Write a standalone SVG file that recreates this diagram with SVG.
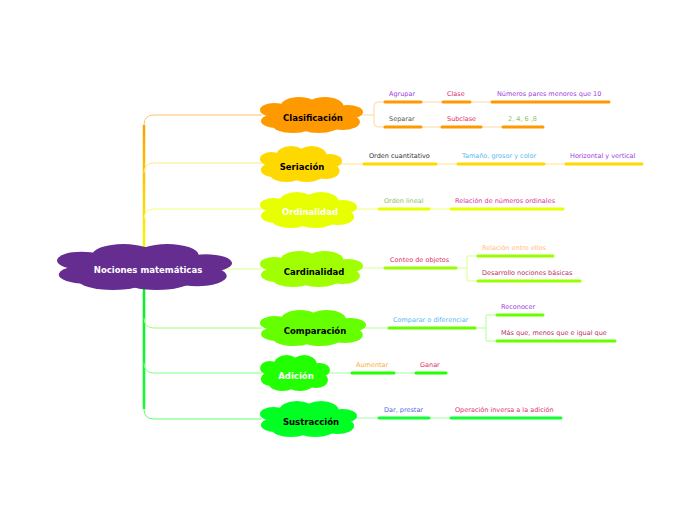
<svg xmlns="http://www.w3.org/2000/svg" xmlns:xlink="http://www.w3.org/1999/xlink" width="697" height="520" viewBox="0 0 697 520">
<style>
.t{font-family:"DejaVu Sans",Verdana,sans-serif;font-size:6.5px}
.n{font-family:"DejaVu Sans",Verdana,sans-serif;font-size:8.5px;font-weight:bold;text-anchor:middle}
.u{stroke-width:3;stroke-linecap:round;fill:none}
.c{fill:none;stroke-width:1}
</style>
<defs>
<symbol id="cloud" viewBox="0 0 100 36" preserveAspectRatio="none">
<ellipse cx="14" cy="13" rx="14" ry="7"/><ellipse cx="38" cy="9" rx="18" ry="9"/><ellipse cx="63" cy="9" rx="18" ry="9"/><ellipse cx="85" cy="15" rx="15" ry="7"/><ellipse cx="80" cy="25" rx="17" ry="8"/><ellipse cx="57" cy="28" rx="20" ry="8"/><ellipse cx="32" cy="28" rx="20" ry="8"/><ellipse cx="16" cy="24" rx="15" ry="7"/><ellipse cx="50" cy="18" rx="40" ry="12"/>
</symbol>
<linearGradient id="tr" x1="0" y1="115" x2="0" y2="420" gradientUnits="userSpaceOnUse"><stop offset="0" stop-color="#ff9900"/><stop offset="0.4" stop-color="#ffee00"/><stop offset="0.5" stop-color="#ccff00"/><stop offset="0.52" stop-color="#00ee22"/><stop offset="1" stop-color="#11ff33"/></linearGradient>
</defs>
<g id="connectors">
<path d="M144,268 V125 M144,268 V409" stroke="url(#tr)" stroke-width="2.5" fill="none"/>
<path class="c" d="M144,125 Q144,115 154,115 H262" stroke="#ffc070" stroke-width="1.5"/>
<path class="c" d="M144,173 Q144,163 154,163 H262" stroke="#ffe880"/>
<path class="c" d="M144,219 Q144,209 154,209 H262" stroke="#f0ff80"/>
<path class="c" d="M200,269 H262" stroke="#d8ff90"/>
<path class="c" d="M144,318 Q144,328 154,328 H262" stroke="#a0ff70"/>
<path class="c" d="M144,363 Q144,373 154,373 H262" stroke="#80ff80"/>
<path class="c" d="M144,409 Q144,419 154,419 H262" stroke="#60ff70" stroke-width="1.5"/>
<path class="c" d="M360,115 H374 M384,102 H378 Q374,102 374,106 V123 Q374,127 378,127 H384 M421,102 H442 M471,102 H491 M421,127 H441 M482,127 H502" stroke="#ffd8a0"/>
<path class="c" d="M340,164 H363 M436,164 H457 M545,164 H565" stroke="#ffe880"/>
<path class="c" d="M355,209 H378 M430,209 H450" stroke="#f0ff80"/>
<path class="c" d="M362,268 H384 M457,268 H467 M477,256 H467 V281 H477" stroke="#d8ff90"/>
<path class="c" d="M364,328 H388 M476,328 H486 M496,315 H486 V341 H496" stroke="#b0ff90"/>
<path class="c" d="M328,373 H351 M395,373 H415" stroke="#a0ffa0"/>
<path class="c" d="M355,418 H378 M430,418 H450" stroke="#a0ffa0"/>
</g>
<g id="root"><use xlink:href="#cloud" x="57" y="244" width="175" height="46" fill="#662d91"/><text class="n" x="148" y="273" fill="#fff">Nociones matemáticas</text></g>
<g id="clasificacion"><use xlink:href="#cloud" x="260" y="97" width="103" height="36" fill="#ff9900"/><text class="n" x="313" y="121" fill="#000">Clasificación</text></g>
<g id="seriacion"><use xlink:href="#cloud" x="260" y="146" width="82" height="36" fill="#ffd800"/><text class="n" x="302" y="170" fill="#000">Seriación</text></g>
<g id="ordinalidad"><use xlink:href="#cloud" x="260" y="192" width="97" height="36" fill="#e8ff00"/><text class="n" x="310" y="215" fill="#fff">Ordinalidad</text></g>
<g id="cardinalidad"><use xlink:href="#cloud" x="260" y="251" width="103" height="36" fill="#a0ff00"/><text class="n" x="314" y="275" fill="#000">Cardinalidad</text></g>
<g id="comparacion"><use xlink:href="#cloud" x="260" y="310" width="106" height="36" fill="#66ff00"/><text class="n" x="315" y="334" fill="#000">Comparación</text></g>
<g id="adicion"><use xlink:href="#cloud" x="260" y="355" width="70" height="36" fill="#22ff00"/><text class="n" x="296" y="379" fill="#fff">Adición</text></g>
<g id="sustraccion"><use xlink:href="#cloud" x="260" y="401" width="97" height="36" fill="#00ff22"/><text class="n" x="311" y="425" fill="#000">Sustracción</text></g>
<g id="leaves">
<g stroke="#ff9900" class="u"><path d="M385,102H421M443,102H470M492,102H609M385,127H421M442,127H481M503,127H543"/></g>
<text class="t" x="389" y="96" fill="#a040e0">Agrupar</text>
<text class="t" x="447" y="96" fill="#e0306a">Clase</text>
<text class="t" x="497" y="96" fill="#a040e0">Números pares menores que 10</text>
<text class="t" x="389" y="121" fill="#555">Separar</text>
<text class="t" x="447" y="121" fill="#e0306a">Subclase</text>
<text class="t" x="508" y="121" fill="#90c060">2, 4, 6 ,8</text>
<g stroke="#ffd800" class="u"><path d="M364,164H436M458,164H544M566,164H642"/></g>
<text class="t" x="369" y="158" fill="#333">Orden cuantitativo</text>
<text class="t" x="462" y="158" fill="#55bbee">Tamaño, grosor y color</text>
<text class="t" x="570" y="158" fill="#a040e0">Horizontal y vertical</text>
<g stroke="#e8ff00" class="u"><path d="M379,209H429M451,209H563"/></g>
<text class="t" x="384" y="203" fill="#90c060">Orden lineal</text>
<text class="t" x="455" y="203" fill="#e030a0">Relación de números ordinales</text>
<g stroke="#99ff00" class="u"><path d="M385,268H456M478,256H553M478,281H580"/></g>
<text class="t" x="390" y="262" fill="#e0306a">Conteo de objetos</text>
<text class="t" x="482" y="250" fill="#ffc080">Relación entre ellos</text>
<text class="t" x="482" y="275" fill="#c03060">Desarrollo nociones básicas</text>
<g stroke="#66ff00" class="u"><path d="M389,328H475M497,315H543M497,341H615"/></g>
<text class="t" x="393" y="322" fill="#55bbee">Comparar o diferenciar</text>
<text class="t" x="501" y="309" fill="#a040e0">Reconocer</text>
<text class="t" x="501" y="335" fill="#c03060">Más que, menos que e igual que</text>
<g stroke="#22ff00" class="u"><path d="M352,373H394M416,373H446"/></g>
<text class="t" x="356" y="367" fill="#ffaa30">Aumentar</text>
<text class="t" x="420" y="367" fill="#e0306a">Ganar</text>
<g stroke="#11ff33" class="u"><path d="M379,418H429M451,418H561"/></g>
<text class="t" x="384" y="412" fill="#5566dd">Dar, prestar</text>
<text class="t" x="455" y="412" fill="#e0306a">Operación inversa a la adición</text>
</g>
</svg>
